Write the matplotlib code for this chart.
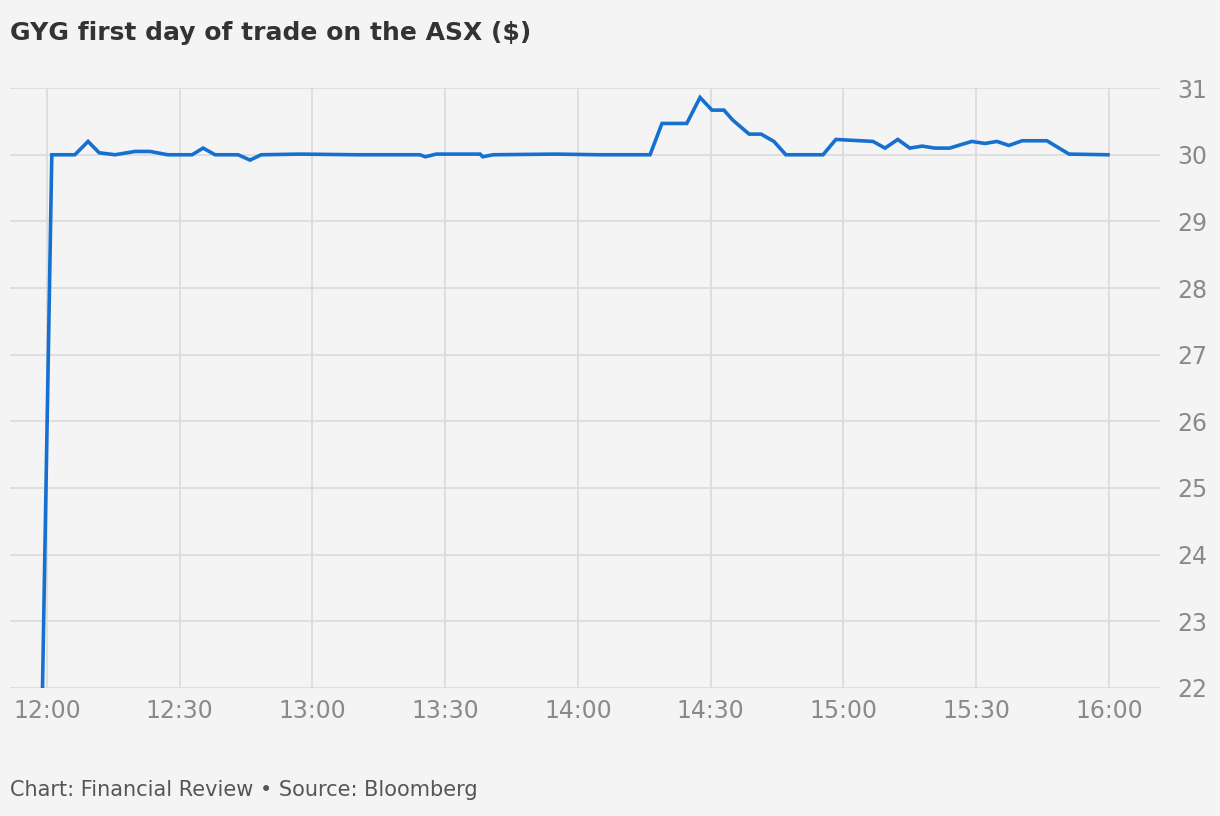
import matplotlib
matplotlib.use("Agg")
import matplotlib.pyplot as plt

# minutes after 12:00, price in $
minutes = [-1, 1.1, 6.3, 9.3, 11.8, 15.4, 19.9, 23.3, 27.3, 32.8, 35.3, 38.0, 43.2,
           45.9, 48.4, 57.2, 70, 84.3, 85.5, 88, 97.9, 98.5, 100.8, 115, 125, 136.3,
           139, 144.6, 147.6, 150.3, 153, 155, 158.7, 161.4, 164.3, 167, 175.4,
           178.3, 186.7, 189.4, 192.3, 195, 197.8, 200.7, 204, 209, 212, 214.7,
           217.4, 220.4, 226, 231, 239.8]
price = [22.0, 30.0, 30.0, 30.2, 30.03, 30.0, 30.05, 30.05, 30.0, 30.0, 30.1, 30.0, 30.0,
         29.92, 30.0, 30.01, 30.0, 30.0, 29.97, 30.01, 30.01, 29.97, 30.0, 30.01, 30.0, 30.0,
         30.47, 30.47, 30.86, 30.67, 30.67, 30.52, 30.31, 30.31, 30.2, 30.0, 30.0,
         30.23, 30.2, 30.1, 30.23, 30.1, 30.13, 30.1, 30.1, 30.2, 30.17, 30.2,
         30.14, 30.21, 30.21, 30.01, 30.0]
tick_min = [0, 30, 60, 90, 120, 150, 180, 210, 240]
tick_lab = ["12:00", "12:30", "13:00", "13:30", "14:00", "14:30", "15:00", "15:30", "16:00"]
yticks = list(range(22, 32))

bg = "#f4f4f4"
fig = plt.figure(figsize=(12.2, 8.16), dpi=100, facecolor=bg)
ax = fig.add_axes([0.008, 0.157, 0.943, 0.735], facecolor=bg)
ax.plot(minutes, price, color="#1670d0", lw=2.6, solid_joinstyle="miter", zorder=3)
ax.set_xlim(-8.4, 251.6)
ax.set_ylim(22, 31)
ax.set_xticks(tick_min, tick_lab)
ax.set_yticks(yticks)
ax.yaxis.tick_right()
ax.grid(True, color="#dcdcdc", lw=1.3)
for s in ax.spines.values():
    s.set_visible(False)
ax.tick_params(length=0, labelsize=17, colors="#8a8a8a", pad=8)
ax.tick_params(axis="y", pad=12)

fig.text(0.008, 0.96, "GYG first day of trade on the ASX ($)", fontsize=18,
         fontweight="bold", color="#333333", va="center")
fig.text(0.008, 0.032, "Chart: Financial Review • Source: Bloomberg", fontsize=15,
         color="#555555", va="center")
fig.savefig("out.png", dpi=100, facecolor=bg)
